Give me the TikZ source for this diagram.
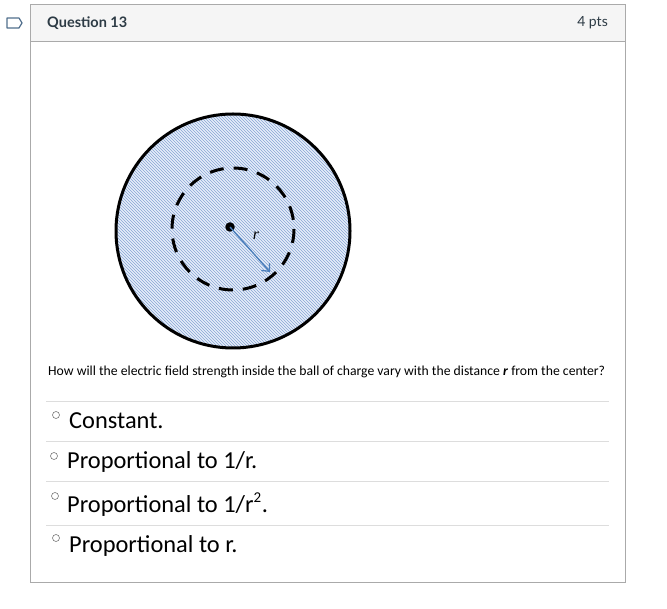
\documentclass[tikz,border=0pt]{standalone}
\usepackage{fontspec}
\setmainfont{Carlito}
\newfontfamily\latofont{Lato}
\newfontfamily\serifit{Liberation Serif}
\usetikzlibrary{patterns,arrows.meta}
\definecolor{boxgray}{RGB}{170,170,170}
\definecolor{headfill}{RGB}{245,245,245}
\definecolor{sepgray}{RGB}{221,221,221}
\definecolor{headtext}{RGB}{45,59,69}
\definecolor{flagcol}{RGB}{80,110,140}
\definecolor{ballbase}{RGB}{230,238,250}
\definecolor{ballhatch}{RGB}{135,165,212}
\definecolor{arrowblue}{RGB}{74,126,187}
\definecolor{radiogray}{RGB}{120,120,120}
\tikzset{
  sep/.style={draw=sepgray,line width=1pt},
  radio/.style={circle,draw=radiogray,line width=0.6pt,minimum size=7pt,inner sep=0pt},
  opt/.style={anchor=base west,inner sep=0pt,font=\fontsize{24.4}{27}\selectfont},
}
\begin{document}
\begin{tikzpicture}[x=1pt,y=-1pt]
\useasboundingbox (0,0) rectangle (667,609);
% flag icon
\draw[flagcol,line width=1.2pt,line join=round] (7,18) -- (19,18) -- (22,23) -- (19,28) -- (7,28) -- cycle;
% outer box and header
\fill[headfill] (30,5) rectangle (625,42);
\draw[boxgray,line width=1pt] (30,5) rectangle (625,582);
\draw[boxgray,line width=1pt] (30,42) -- (625,42);
\node[anchor=base west,inner sep=0pt,text=headtext,font=\latofont\bfseries\fontsize{14.5}{16}\selectfont] (qtitle) at (47,28) {Question 13};
\node[anchor=base east,inner sep=0pt,text=headtext,font=\latofont\fontsize{14}{16}\selectfont] (pts) at (608,27) {4 pts};
% ball of charge
\coordinate (ballc) at (233,231);
\fill[ballbase] (ballc) circle[radius=117];
\path[pattern=north west lines,pattern color=ballhatch] (ballc) circle[radius=117];
\draw[black,line width=3pt] (ballc) circle[radius=117];
\coordinate (gaussc) at (233,229);
\draw[black,line width=3pt,dash pattern=on 14pt off 10pt] (gaussc) circle[radius=61];
\node[circle,fill=black,minimum size=9.5pt,inner sep=0pt] (dot) at (230,227) {};
\coordinate (tip) at (270,272);
\draw[arrowblue,line width=1.3pt,-{Straight Barb[length=6pt,width=11pt]}] (dot.center) -- (tip);
\node[inner sep=0pt,font=\serifit\itshape\fontsize{16}{18}\selectfont] (rlab) at (256,236) {r};
% question
\node[anchor=base west,inner sep=0pt,font=\fontsize{13.7}{16}\selectfont] (qtext) at (48,376) {How will the electric field strength inside the ball of charge vary with the distance \textbf{\textit{r}} from the center?};
% separators
\draw[sep] (46,402) -- (609,402);
\draw[sep] (46,442) -- (609,442);
\draw[sep] (46,482) -- (609,482);
\draw[sep] (46,525) -- (609,525);
% options
\node[radio] (r1) at (56,415) {};
\node[opt] (o1) at (69,429) {Constant.};
\node[radio] (r2) at (54,456) {};
\node[opt] (o2) at (67,469) {Proportional to 1/r.};
\node[radio] (r3) at (55,496) {};
\node[opt] (o3) at (67,512) {Proportional to 1/r\textsuperscript{\fontsize{15}{16}\selectfont 2}.};
\node[radio] (r4) at (56,538) {};
\node[opt] (o4) at (69,552) {Proportional to r.};
\end{tikzpicture}
\end{document}
